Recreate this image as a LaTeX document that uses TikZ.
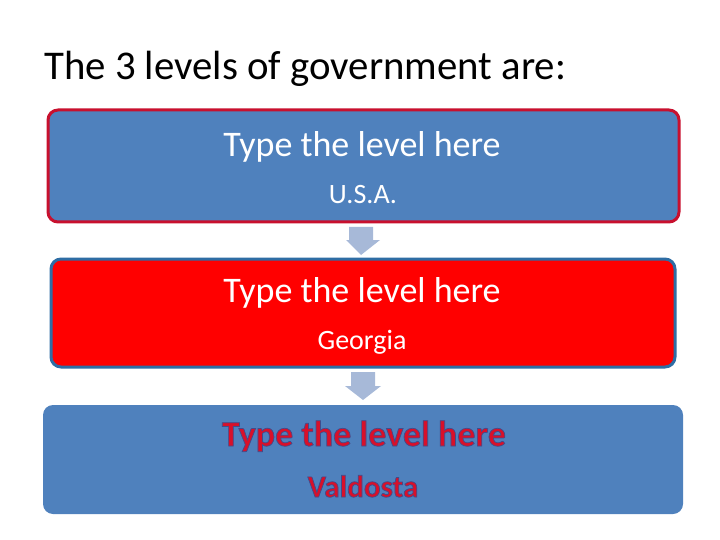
\documentclass[tikz,border=0pt]{standalone}
\usepackage{fontspec}
\setmainfont{Carlito}
\definecolor{boxblue}{HTML}{4F81BD}
\definecolor{boxred}{HTML}{FF0000}
\definecolor{edgered}{HTML}{C8102E}
\definecolor{edgeblue}{HTML}{2E6DA4}
\definecolor{arrowblue}{HTML}{A7B9D8}
\definecolor{txtred}{HTML}{D8102A}
\newcommand{\outlinedtext}[1]{\special{pdf:literal direct 2 Tr 0.7 w 0.25 0.30 0.55 RG}#1\special{pdf:literal direct 0 Tr}}
\begin{document}
\begin{tikzpicture}[x=1pt,y=-1pt,
  levelbox/.style={rounded corners=10pt, line width=3pt},
  bigtxt/.style={font=\fontsize{36}{40}\selectfont, anchor=base, inner sep=0pt},
  smalltxt/.style={font=\fontsize{28}{32}\selectfont, anchor=base, inner sep=0pt},
  boldbig/.style={bigtxt, font=\bfseries\fontsize{36}{40}\selectfont},
  boldsmall/.style={smalltxt, font=\bfseries\fontsize{31}{34}\selectfont},
  downarrow/.style={fill=arrowblue, draw=none}]
\useasboundingbox (0,0) rectangle (720,540);
\node[anchor=base west, inner sep=0pt, font=\fontsize{40.8}{44}\selectfont] (title) at (44,80) {The 3 levels of government are:};
% box 1
\draw[levelbox, fill=boxblue, draw=edgered] (48,110) rectangle (679,222);
\node[bigtxt, white] (t1) at (362,157) {Type the level here};
\node[smalltxt, white] (s1) at (363,204) {U.S.A.};
% arrow 1
\fill[downarrow] (349,227) -- (373,227) -- (373,240) -- (380,240) -- (361,255) -- (346,240) -- (349,240) -- cycle;
% box 2
\draw[levelbox, fill=boxred, draw=edgeblue] (51,259) rectangle (675,367);
\node[bigtxt, white] (t2) at (362,302) {Type the level here};
\node[smalltxt, white] (s2) at (362,349) {Georgia};
% arrow 2
\fill[downarrow] (351,372) -- (375,372) -- (375,386) -- (381,386) -- (363,400) -- (345,386) -- (351,386) -- cycle;
% box 3
\fill[levelbox, boxblue] (43,405) rectangle (683,514);
\node[boldbig, txtred] (t3) at (364,446) {\outlinedtext{Type the level here}};
\node[boldsmall, txtred] (s3) at (363,497) {\outlinedtext{Valdosta}};
\end{tikzpicture}
\end{document}
